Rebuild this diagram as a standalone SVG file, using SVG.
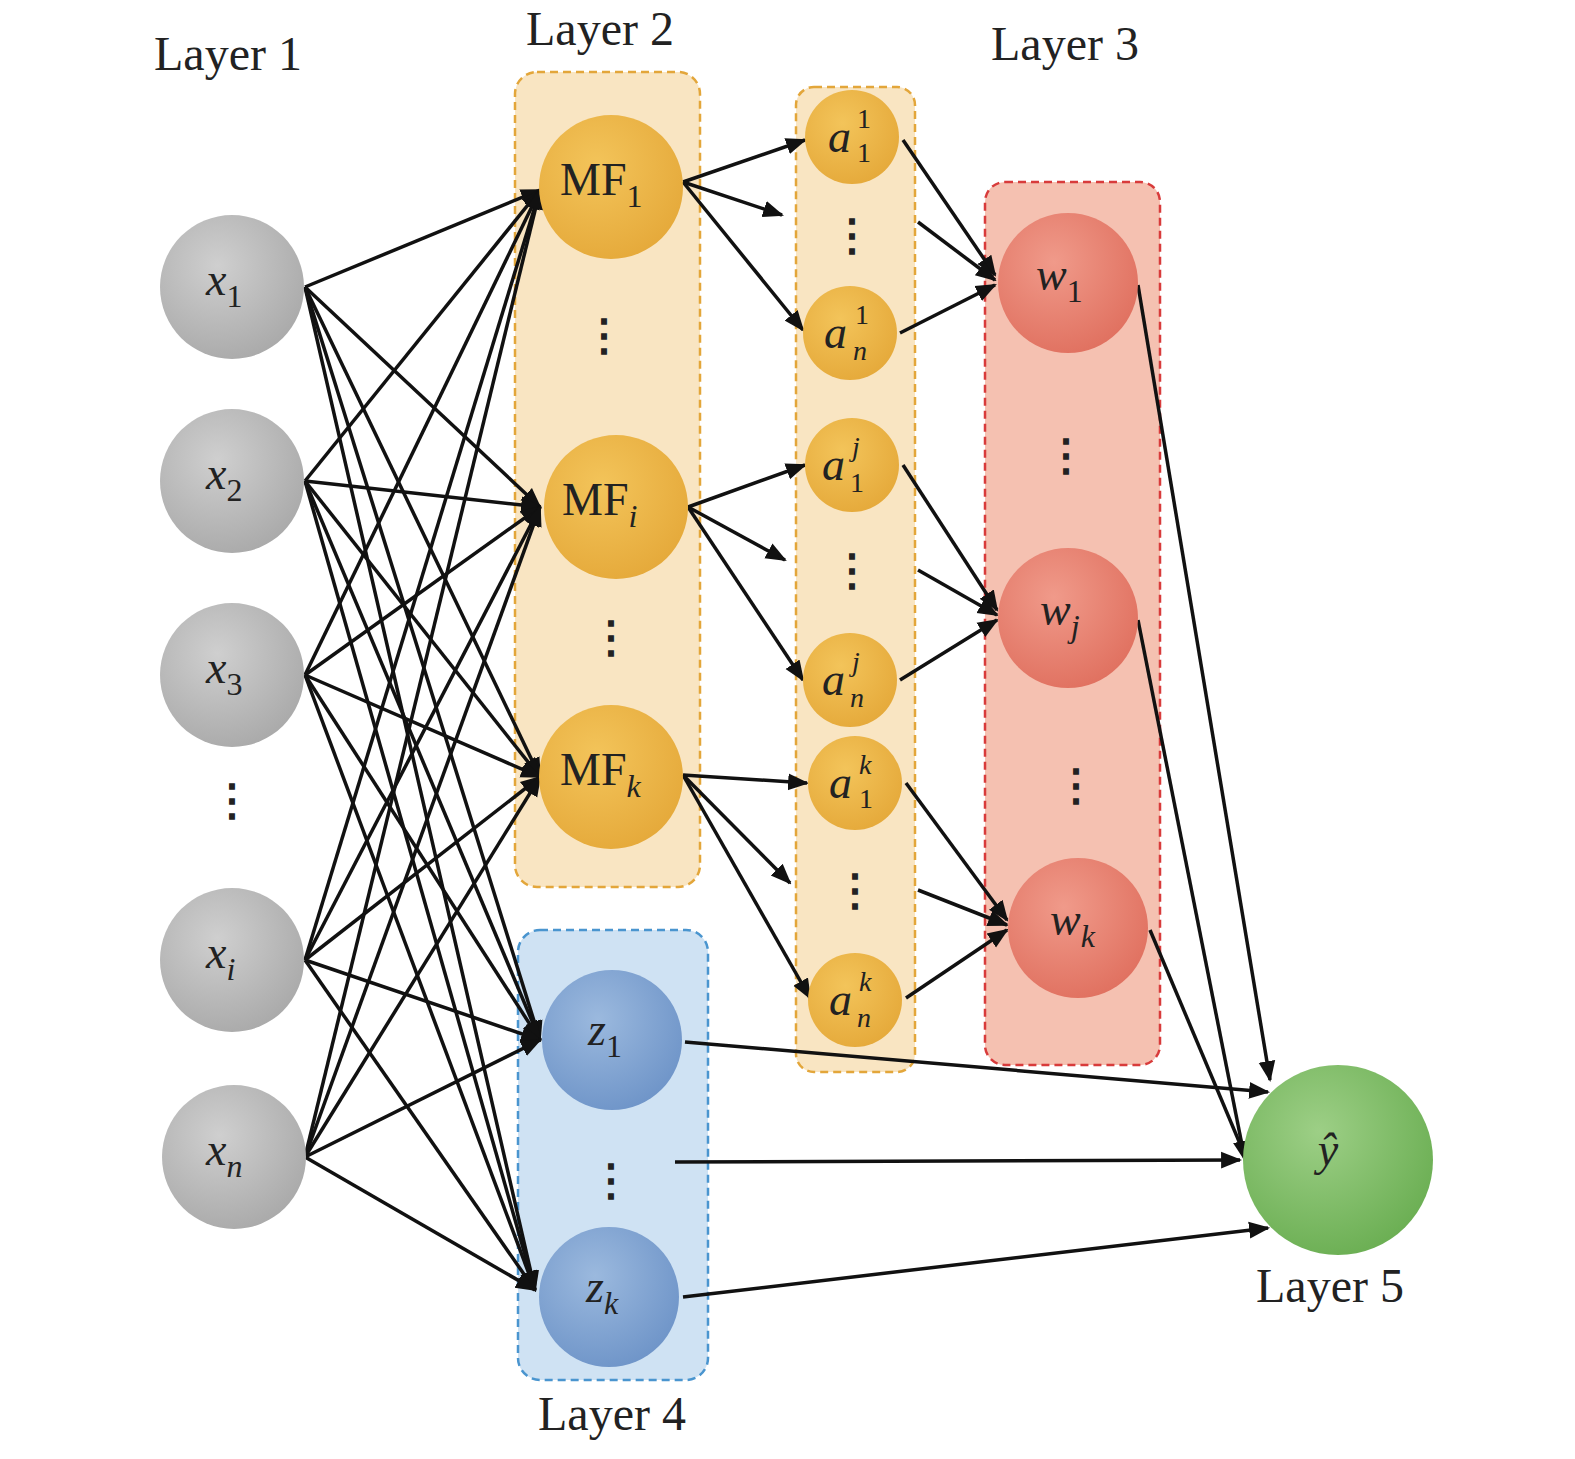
<svg xmlns="http://www.w3.org/2000/svg" width="1575" height="1459" viewBox="0 0 1575 1459">
<defs>
<radialGradient id="gg" cx="0.4" cy="0.35" r="0.7"><stop offset="0" stop-color="#cfcfcf"/><stop offset="1" stop-color="#a9a9a9"/></radialGradient>
<radialGradient id="go" cx="0.4" cy="0.35" r="0.7"><stop offset="0" stop-color="#f3c45a"/><stop offset="1" stop-color="#e5a93a"/></radialGradient>
<radialGradient id="gb" cx="0.4" cy="0.35" r="0.7"><stop offset="0" stop-color="#9bb9de"/><stop offset="1" stop-color="#6e94c8"/></radialGradient>
<radialGradient id="gr" cx="0.4" cy="0.35" r="0.7"><stop offset="0" stop-color="#f09a8a"/><stop offset="1" stop-color="#e0705f"/></radialGradient>
<radialGradient id="gv" cx="0.4" cy="0.35" r="0.7"><stop offset="0" stop-color="#9dcf86"/><stop offset="1" stop-color="#6aae52"/></radialGradient>
<marker id="ar" viewBox="0 0 10 10" refX="9" refY="5" markerWidth="6" markerHeight="6" orient="auto"><path d="M0,1 L10,5 L0,9 z" fill="#111"/></marker>
</defs>
<style>
text{font-family:"Liberation Serif","Times New Roman",serif;fill:#222}
.lbl{font-size:48px}
.n{font-size:46px;font-style:italic}
.s{font-size:32px;font-style:normal}
.si{font-size:32px;font-style:italic}
.sm{font-size:28px;font-style:normal}
.smi{font-size:28px;font-style:italic}
.dot{font-size:44px;font-weight:bold}
.e line{stroke:#111;stroke-width:3.5;marker-end:url(#ar)}
</style>
<rect width="1575" height="1459" fill="#fff"/>
<g id="boxes">
<rect x="515" y="72" width="185" height="815" rx="22" fill="#f9e5c2" stroke="#e3a63a" stroke-width="2.5" stroke-dasharray="8,5"/>
<rect x="518" y="930" width="190" height="450" rx="22" fill="#cfe2f3" stroke="#4a95cf" stroke-width="2.5" stroke-dasharray="8,5"/>
<rect x="796" y="87" width="119" height="985" rx="18" fill="#f9e5c2" stroke="#e3a63a" stroke-width="2.5" stroke-dasharray="8,5"/>
<rect x="985" y="182" width="175" height="883" rx="20" fill="#f5c1b1" stroke="#d83b3b" stroke-width="2.5" stroke-dasharray="8,5"/>
</g>
<g id="labels" class="lbl">
<text x="228" y="70" text-anchor="middle">Layer 1</text>
<text x="600" y="45" text-anchor="middle">Layer 2</text>
<text x="1065" y="60" text-anchor="middle">Layer 3</text>
<text x="612" y="1430" text-anchor="middle">Layer 4</text>
<text x="1330" y="1302" text-anchor="middle">Layer 5</text>
</g>
<g id="connectors" class="e">
<line x1="305" y1="287" x2="540" y2="190"/><line x1="305" y1="287" x2="540" y2="507"/><line x1="305" y1="287" x2="540" y2="777"/><line x1="305" y1="287" x2="540" y2="1040"/><line x1="305" y1="287" x2="535" y2="1290"/>
<line x1="305" y1="481" x2="540" y2="190"/><line x1="305" y1="481" x2="540" y2="507"/><line x1="305" y1="481" x2="540" y2="777"/><line x1="305" y1="481" x2="540" y2="1040"/><line x1="305" y1="481" x2="535" y2="1290"/>
<line x1="305" y1="675" x2="540" y2="190"/><line x1="305" y1="675" x2="540" y2="507"/><line x1="305" y1="675" x2="540" y2="777"/><line x1="305" y1="675" x2="540" y2="1040"/><line x1="305" y1="675" x2="535" y2="1290"/>
<line x1="305" y1="960" x2="540" y2="190"/><line x1="305" y1="960" x2="540" y2="507"/><line x1="305" y1="960" x2="540" y2="777"/><line x1="305" y1="960" x2="540" y2="1040"/><line x1="305" y1="960" x2="535" y2="1290"/>
<line x1="305" y1="1157" x2="540" y2="190"/><line x1="305" y1="1157" x2="540" y2="507"/><line x1="305" y1="1157" x2="540" y2="777"/><line x1="305" y1="1157" x2="540" y2="1040"/><line x1="305" y1="1157" x2="535" y2="1290"/>
<line x1="683" y1="182" x2="805" y2="140"/><line x1="683" y1="182" x2="782" y2="215"/><line x1="683" y1="182" x2="803" y2="330"/>
<line x1="688" y1="507" x2="805" y2="465"/><line x1="688" y1="507" x2="785" y2="560"/><line x1="688" y1="507" x2="803" y2="680"/>
<line x1="683" y1="775" x2="807" y2="783"/><line x1="683" y1="775" x2="790" y2="883"/><line x1="683" y1="775" x2="810" y2="998"/>
<line x1="903" y1="140" x2="995" y2="275"/><line x1="918" y1="222" x2="995" y2="280"/><line x1="900" y1="333" x2="995" y2="285"/>
<line x1="903" y1="465" x2="997" y2="610"/><line x1="918" y1="570" x2="997" y2="615"/><line x1="900" y1="680" x2="997" y2="620"/>
<line x1="906" y1="783" x2="1007" y2="920"/><line x1="918" y1="890" x2="1007" y2="925"/><line x1="906" y1="998" x2="1007" y2="930"/>
<line x1="1138" y1="285" x2="1270" y2="1080"/><line x1="1138" y1="620" x2="1245" y2="1160"/><line x1="1150" y1="930" x2="1270" y2="1215"/>
<line x1="685" y1="1042" x2="1268" y2="1092"/><line x1="675" y1="1162" x2="1240" y2="1160"/><line x1="683" y1="1297" x2="1268" y2="1228"/>
</g>
<g id="n-x1"><circle cx="232" cy="287" r="72" fill="url(#gg)"/><text x="206" y="295" class="n">x<tspan class="s" dy="12">1</tspan></text></g>
<g id="n-x2"><circle cx="232" cy="481" r="72" fill="url(#gg)"/><text x="206" y="489" class="n">x<tspan class="s" dy="12">2</tspan></text></g>
<g id="n-x3"><circle cx="232" cy="675" r="72" fill="url(#gg)"/><text x="206" y="683" class="n">x<tspan class="s" dy="12">3</tspan></text></g>
<g id="n-xi"><circle cx="232" cy="960" r="72" fill="url(#gg)"/><text x="206" y="968" class="n">x<tspan class="si" dy="12">i</tspan></text></g>
<g id="n-xn"><circle cx="234" cy="1157" r="72" fill="url(#gg)"/><text x="206" y="1165" class="n">x<tspan class="si" dy="12">n</tspan></text></g>
<g id="n-mf1"><circle cx="611" cy="187" r="72" fill="url(#go)"/><text x="560" y="195" class="n" style="font-style:normal">MF<tspan class="s" dy="12">1</tspan></text></g>
<g id="n-mfi"><circle cx="616" cy="507" r="72" fill="url(#go)"/><text x="562" y="515" class="n" style="font-style:normal">MF<tspan class="si" dy="12">i</tspan></text></g>
<g id="n-mfk"><circle cx="611" cy="777" r="72" fill="url(#go)"/><text x="560" y="785" class="n" style="font-style:normal">MF<tspan class="si" dy="12">k</tspan></text></g>
<g id="n-z1"><circle cx="612" cy="1040" r="70" fill="url(#gb)"/><text x="588" y="1045" class="n">z<tspan class="s" dy="12">1</tspan></text></g>
<g id="n-zk"><circle cx="609" cy="1297" r="70" fill="url(#gb)"/><text x="586" y="1302" class="n">z<tspan class="si" dy="12">k</tspan></text></g>
<g id="n-a11"><circle cx="852" cy="137" r="47" fill="url(#go)"/><text x="828" y="152" class="n">a</text><text x="857" y="128" class="sm">1</text><text x="857" y="162" class="sm">1</text></g>
<g id="n-a1n"><circle cx="850" cy="333" r="47" fill="url(#go)"/><text x="824" y="348" class="n">a</text><text x="855" y="324" class="sm">1</text><text x="853" y="360" class="smi">n</text></g>
<g id="n-aj1"><circle cx="852" cy="465" r="47" fill="url(#go)"/><text x="822" y="480" class="n">a</text><text x="852" y="456" class="smi">j</text><text x="850" y="492" class="sm">1</text></g>
<g id="n-ajn"><circle cx="850" cy="680" r="47" fill="url(#go)"/><text x="822" y="695" class="n">a</text><text x="852" y="671" class="smi">j</text><text x="850" y="707" class="smi">n</text></g>
<g id="n-ak1"><circle cx="855" cy="783" r="47" fill="url(#go)"/><text x="829" y="798" class="n">a</text><text x="859" y="774" class="smi">k</text><text x="859" y="808" class="sm">1</text></g>
<g id="n-akn"><circle cx="855" cy="1000" r="47" fill="url(#go)"/><text x="829" y="1015" class="n">a</text><text x="859" y="991" class="smi">k</text><text x="857" y="1027" class="smi">n</text></g>
<g id="n-w1"><circle cx="1068" cy="283" r="70" fill="url(#gr)"/><text x="1036" y="290" class="n">w<tspan class="s" dy="12">1</tspan></text></g>
<g id="n-wj"><circle cx="1068" cy="618" r="70" fill="url(#gr)"/><text x="1040" y="625" class="n">w<tspan class="si" dy="12">j</tspan></text></g>
<g id="n-wk"><circle cx="1078" cy="928" r="70" fill="url(#gr)"/><text x="1050" y="935" class="n">w<tspan class="si" dy="12">k</tspan></text></g>
<g id="n-y"><circle cx="1338" cy="1160" r="95" fill="url(#gv)"/><text x="1328" y="1165" class="n" text-anchor="middle">ŷ</text></g>
<g id="dots" class="dot" text-anchor="middle">
<text x="232" y="815">⋮</text><text x="604" y="350">⋮</text><text x="611" y="652">⋮</text><text x="611" y="1195">⋮</text>
<text x="852" y="250">⋮</text><text x="852" y="585">⋮</text><text x="855" y="905">⋮</text>
<text x="1066" y="470">⋮</text><text x="1076" y="800">⋮</text>
</g>
</svg>
